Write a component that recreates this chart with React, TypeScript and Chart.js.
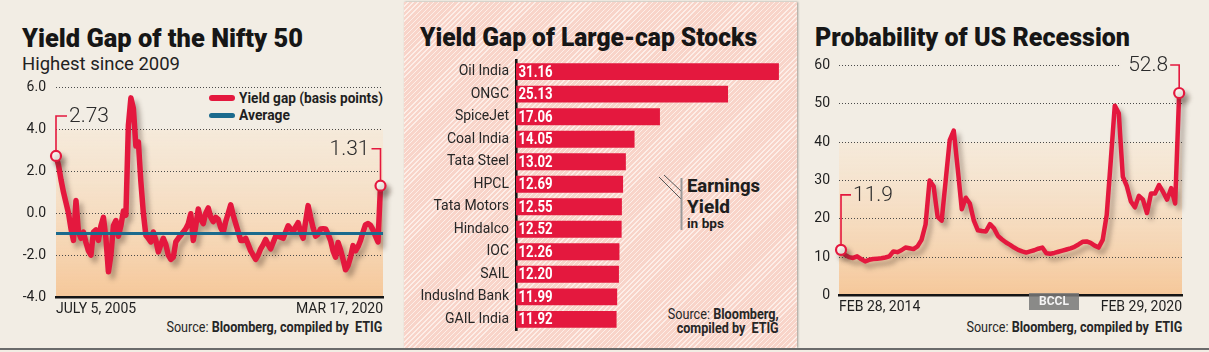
import React, { useEffect, useLayoutEffect, useRef } from 'react';
import { Chart, registerables } from 'chart.js';

Chart.register(...registerables);

// ---------------- Data ----------------
// Yield gap of the Nifty 50 (basis points), Jul 5 2005 -> Mar 17 2020, evenly spaced readings
const NIFTY_YIELD_GAP: number[] = [
  2.73, 2.3, 1.6, 1.0, 0.5, 0.0, -0.74, -1.3, 0.6, -0.9,
  -1.2, -0.9, -1.4, -1.8, -2.0, -0.9, -0.8, -1.3, -0.6, -0.2,
  -1.2, -2.8, -2.0, -0.6, -0.35, -1.1, -0.6, 0.1, -0.1, 4.2,
  5.5, 5.0, 3.2, 3.4, 1.5, 0.0, -1.05, -1.2, -1.37, -0.9,
  -1.3, -1.85, -1.5, -1.2, -1.5, -2.0, -2.2, -2.1, -1.37, -1.2,
  -1.05, -0.9, -0.74, -0.5, -0.03, -1.3, -0.6, 0.2, -0.3, -0.5,
  0.0, 0.25, -0.2, -0.4, -0.2, -0.3, -0.7, -0.9, -0.4, 0.0,
  0.4, -0.1, -0.5, -0.9, -1.3, -1.3, -1.2, -1.5, -1.8, -2.0,
  -2.2, -2.0, -1.7, -1.5, -1.25, -1.5, -1.7, -1.4, -1.1, -1.1,
  -1.15, -1.2, -0.9, -0.6, -0.75, -0.9, -0.65, -0.45, -0.9, -1.2,
  -0.4, 0.36, -0.2, -0.7, -1.1, -1.0, -0.75, -0.74, -0.75, -1.0,
  -1.3, -1.8, -2.1, -1.4, -1.75, -2.2, -2.7, -2.5, -2.1, -1.55,
  -1.8, -1.6, -1.3, -0.9, -0.55, -0.5, -0.58, -0.8, -1.1, -1.37,
  1.31,
];
const NIFTY_AVERAGE = -0.97;
const NIFTY_X_LABELS = ['JULY 5, 2005', 'MAR 17, 2020'];
const NIFTY_Y_MIN = -4;
const NIFTY_Y_MAX = 6;
const NIFTY_Y_STEP = 2;

// Yield gap of large-cap stocks (earnings yield, bps)
const STOCK_NAMES: string[] = [
  'Oil India', 'ONGC', 'SpiceJet', 'Coal India', 'Tata Steel', 'HPCL',
  'Tata Motors', 'Hindalco', 'IOC', 'SAIL', 'IndusInd Bank', 'GAIL India',
];
const STOCK_YIELDS: number[] = [31.16, 25.13, 17.06, 14.05, 13.02, 12.69, 12.55, 12.52, 12.26, 12.2, 11.99, 11.92];

// Probability of US recession (%), Feb 28 2014 -> Feb 29 2020
const RECESSION_PROB: number[] = [
  11.9, 10.6, 10.0, 9.8, 10.2, 9.5, 8.9, 9.3, 9.5, 9.6,
  9.7, 9.9, 10.2, 11.5, 11.3, 11.8, 12.5, 12.3, 12.1, 12.8,
  14.5, 18.5, 30.0, 28.5, 20.5, 19.5, 30.0, 40.5, 43.0, 33.0,
  22.5, 25.5, 24.0, 19.5, 17.0, 16.8, 16.7, 18.6, 17.5, 15.5,
  14.6, 13.8, 13.2, 12.5, 11.9, 11.5, 11.2, 11.5, 11.8, 12.2,
  12.5, 11.0, 10.9, 11.1, 11.4, 11.7, 12.0, 12.3, 12.7, 13.3,
  14.0, 14.1, 13.7, 13.0, 12.5, 14.5, 21.0, 35.0, 49.5, 47.5,
  31.0, 28.5, 24.5, 23.0, 26.0, 25.0, 21.5, 26.6, 26.6, 28.8,
  27.0, 25.0, 28.0, 24.0, 52.8,
];
const RECESSION_X_LABELS = ['FEB 28, 2014', 'FEB 29, 2020'];
const RECESSION_Y_MIN = 0;
const RECESSION_Y_MAX = 60;
const RECESSION_Y_STEP = 10;

// ---------------- Styles ----------------
const RED = '#e4183e';
const BLUE = '#1b6a8d';
const INK = '#1f1f1f';
const BG = '#f2ede4';
const FONT = 'Roboto, "Noto Sans", "DejaVu Sans", sans-serif';

// ---------------- Plugins ----------------
const areaFillPlugin = {
  id: 'areaFill',
  beforeDraw(chart: any, _a: any, opts: any) {
    const { ctx, chartArea } = chart;
    const top = chart.scales.y.getPixelForValue(opts.from);
    const g = ctx.createLinearGradient(0, top, 0, chartArea.bottom);
    g.addColorStop(0, 'rgba(248,231,210,0.55)');
    g.addColorStop(1, 'rgba(245,199,153,1)');
    ctx.save();
    ctx.fillStyle = g;
    ctx.fillRect(chartArea.left, top, chartArea.right - chartArea.left, chartArea.bottom - top);
    ctx.restore();
  },
};

const shadowPlugin = {
  id: 'lineShadow',
  beforeDatasetDraw(chart: any, args: any, opts: any) {
    if (args.index !== opts.index) return;
    const ctx = chart.ctx;
    ctx.save();
    ctx.shadowColor = 'rgba(70,50,40,0.38)';
    ctx.shadowBlur = 5;
    ctx.shadowOffsetX = 4;
    ctx.shadowOffsetY = 5;
  },
  afterDatasetDraw(chart: any, args: any, opts: any) {
    if (args.index !== opts.index) return;
    chart.ctx.restore();
  },
};

const endLabelPlugin = {
  id: 'endLabels',
  afterDatasetsDraw(chart: any, _a: any, opts: any) {
    const { ctx } = chart;
    const meta = chart.getDatasetMeta(opts.datasetIndex);
    const ds = chart.data.datasets[opts.datasetIndex];
    for (const item of opts.items) {
      const idx = item.index < 0 ? ds.data.length + item.index : item.index;
      const el = meta.data[idx];
      const raw = ds.data[idx];
      const value = typeof raw === 'object' ? raw.y : raw;
      const text = Number(value).toFixed(opts.decimals);
      const dir = item.side === 'right' ? 1 : -1;
      const topY = el.y - item.rise;
      const endX = el.x + item.run * dir;
      ctx.save();
      ctx.font = `300 21px ${FONT}`;
      const tw = ctx.measureText(text).width;
      if (item.knockout) {
        const x0 = dir > 0 ? endX : endX - tw - 10;
        ctx.fillStyle = BG;
        ctx.fillRect(x0, topY - 4, tw + 10 + item.run + 6, 8);
      }
      ctx.strokeStyle = RED;
      ctx.lineWidth = 1.6;
      ctx.beginPath();
      ctx.moveTo(el.x, el.y - 5);
      ctx.lineTo(el.x, topY);
      ctx.lineTo(endX, topY);
      ctx.stroke();
      ctx.fillStyle = '#2b2b2b';
      ctx.textBaseline = 'middle';
      ctx.textAlign = dir > 0 ? 'left' : 'right';
      ctx.fillText(text, endX + 2 * dir, topY + 1);
      ctx.restore();
    }
  },
};

const barValuePlugin = {
  id: 'barValues',
  afterDatasetsDraw(chart: any) {
    const { ctx } = chart;
    const meta = chart.getDatasetMeta(0);
    const ds = chart.data.datasets[0];
    ctx.save();
    ctx.font = `bold 16.5px ${FONT}`;
    ctx.fillStyle = '#ffffff';
    ctx.textBaseline = 'middle';
    ctx.textAlign = 'left';
    meta.data.forEach((bar: any, i: number) => {
      const t = Number(ds.data[i]).toFixed(2);
      const w = ctx.measureText(t).width;
      ctx.fillText(t, bar.base + 2.5, bar.y + 1, w * 0.8);
    });
    ctx.restore();
  },
};

// ---------------- Chart builders ----------------
function makeLineChart(canvas: HTMLCanvasElement, cfg: any) {
  return new Chart(canvas, {
    type: 'line',
    data: { datasets: cfg.datasets },
    options: {
      animation: false,
      responsive: false,
      maintainAspectRatio: false,
      devicePixelRatio: 1,
      events: [],
      layout: { padding: cfg.padding },
      elements: { line: { tension: 0 } },
      plugins: {
        legend: { display: false },
        tooltip: { enabled: false },
        areaFill: { from: cfg.fillFrom },
        lineShadow: { index: cfg.shadowIndex },
        endLabels: cfg.endLabels,
      } as any,
      scales: {
        x: {
          type: 'linear',
          min: cfg.xMin,
          max: cfg.xMax,
          grid: { display: false, drawTicks: false },
          border: { display: true, color: '#151515', width: 2.6 },
          afterBuildTicks: (s: any) => {
            s.ticks = [{ value: s.min }, { value: s.max }];
          },
          afterFit: (s: any) => {
            s.height = cfg.xHeight;
          },
          ticks: {
            autoSkip: false,
            maxRotation: 0,
            align: 'inner',
            padding: 4,
            color: INK,
            font: { family: FONT, size: 14 },
            callback: (_v: any, i: number) => cfg.xLabels[i],
          },
        },
        y: {
          min: cfg.yMin,
          max: cfg.yMax,
          afterFit: (s: any) => {
            s.width = cfg.yWidth;
          },
          grid: { color: '#4a4a4a', lineWidth: 1, drawTicks: false },
          border: { display: false, dash: [1, 2] },
          ticks: {
            stepSize: cfg.yStep,
            padding: cfg.yPad,
            color: INK,
            font: { family: FONT, size: 14 },
            callback: (v: any) => Number(v).toFixed(cfg.yDecimals),
          },
        },
      },
    } as any,
    plugins: [areaFillPlugin, shadowPlugin, endLabelPlugin] as any,
  });
}

function makeNifty(canvas: HTMLCanvasElement) {
  const n = NIFTY_YIELD_GAP.length;
  return makeLineChart(canvas, {
    padding: { top: 0, right: 17, bottom: 0, left: 0 },
    xMin: 0,
    xMax: n,
    xHeight: 25,
    yWidth: 56,
    yPad: 10,
    yMin: NIFTY_Y_MIN,
    yMax: NIFTY_Y_MAX,
    yStep: NIFTY_Y_STEP,
    yDecimals: 1,
    xLabels: NIFTY_X_LABELS,
    fillFrom: 4,
    shadowIndex: 1,
    endLabels: {
      datasetIndex: 1,
      decimals: 2,
      items: [
        { index: 0, side: 'right', rise: 40, run: 11 },
        { index: -1, side: 'left', rise: 37, run: 9 },
      ],
    },
    datasets: [
      {
        label: 'Average',
        data: [
          { x: 0, y: NIFTY_AVERAGE },
          { x: n, y: NIFTY_AVERAGE },
        ],
        borderColor: BLUE,
        borderWidth: 3,
        pointRadius: 0,
        clip: false,
        order: 0,
      },
      {
        label: 'Yield gap (basis points)',
        data: NIFTY_YIELD_GAP.map((v, i) => ({ x: i, y: v })),
        borderColor: RED,
        borderWidth: 5.5,
        borderJoinStyle: 'round',
        borderCapStyle: 'round',
        pointRadius: (c: any) => (c.dataIndex === 0 || c.dataIndex === n - 1 ? 5 : 0),
        pointBackgroundColor: '#fbf7f2',
        pointBorderColor: RED,
        pointBorderWidth: 2.2,
        clip: false,
        order: 1,
      },
    ],
  });
}

function makeRecession(canvas: HTMLCanvasElement) {
  const n = RECESSION_PROB.length;
  return makeLineChart(canvas, {
    padding: { top: 0, right: 27, bottom: 0, left: 0 },
    xMin: -0.5,
    xMax: n - 0.3,
    xHeight: 26.5,
    yWidth: 39,
    yPad: 9,
    yMin: RECESSION_Y_MIN,
    yMax: RECESSION_Y_MAX,
    yStep: RECESSION_Y_STEP,
    yDecimals: 0,
    xLabels: RECESSION_X_LABELS,
    fillFrom: 40,
    shadowIndex: 0,
    endLabels: {
      datasetIndex: 0,
      decimals: 1,
      items: [
        { index: 0, side: 'right', rise: 55, run: 10 },
        { index: -1, side: 'left', rise: 28, run: 9, knockout: true },
      ],
    },
    datasets: [
      {
        label: 'Probability of US Recession',
        data: RECESSION_PROB.map((v, i) => ({ x: i, y: v })),
        borderColor: RED,
        borderWidth: 4.5,
        borderJoinStyle: 'round',
        borderCapStyle: 'round',
        pointRadius: (c: any) => (c.dataIndex === 0 || c.dataIndex === n - 1 ? 5 : 0),
        pointBackgroundColor: '#fbf7f2',
        pointBorderColor: RED,
        pointBorderWidth: 2.2,
        clip: false,
      },
    ],
  });
}

function makeStocks(canvas: HTMLCanvasElement) {
  return new Chart(canvas, {
    type: 'bar',
    data: {
      labels: STOCK_NAMES,
      datasets: [
        {
          label: 'Earnings Yield',
          data: STOCK_YIELDS,
          backgroundColor: RED,
          borderWidth: 0,
          barPercentage: 0.75,
          categoryPercentage: 1,
        },
      ],
    },
    options: {
      indexAxis: 'y',
      animation: false,
      responsive: false,
      maintainAspectRatio: false,
      devicePixelRatio: 1,
      events: [],
      layout: { padding: { top: 0, right: 11, bottom: 0, left: 0 } },
      plugins: { legend: { display: false }, tooltip: { enabled: false } },
      scales: {
        x: { display: false, min: 0, max: 32 },
        y: {
          afterFit: (s: any) => {
            s.width = 111;
          },
          grid: { display: false, drawTicks: false },
          border: { display: true, color: '#151515', width: 2.6 },
          ticks: {
            autoSkip: false,
            padding: 7,
            color: '#262626',
            font: { family: FONT, size: 14 },
          },
        },
      },
    } as any,
    plugins: [barValuePlugin] as any,
  });
}

// ---------------- Components ----------------
function ChartCanvas({ make, left, top, width, height }: any) {
  const ref = useRef<HTMLCanvasElement>(null);
  useEffect(() => {
    const c = make(ref.current!);
    return () => c.destroy();
  }, []);
  return (
    <canvas
      ref={ref}
      width={width}
      height={height}
      style={{ position: 'absolute', left, top, width, height }}
    />
  );
}

function FitText({ x, baseline, size, weight = 400, width, align = 'left', color = INK, children }: any) {
  const ref = useRef<HTMLDivElement>(null);
  useLayoutEffect(() => {
    const el = ref.current;
    if (!el) return;
    el.style.transform = 'none';
    const w = el.getBoundingClientRect().width;
    if (w > 0 && width) el.style.transform = `scaleX(${width / w})`;
  });
  const pos: any = align === 'left' ? { left: x } : { right: 1209 - x };
  return (
    <div
      ref={ref}
      style={{
        position: 'absolute',
        top: baseline - 0.842 * size,
        ...pos,
        fontFamily: FONT,
        fontSize: size,
        fontWeight: weight,
        lineHeight: 1,
        color,
        whiteSpace: 'nowrap',
        transformOrigin: align === 'left' ? 'left top' : 'right top',
      }}
    >
      {children}
    </div>
  );
}

function Source({ x, baseline, width }: any) {
  return (
    <FitText x={x} baseline={baseline} size={14.5} width={width} align="right" color="#262626">
      <span style={{ fontWeight: 400 }}>Source: </span>
      <span style={{ fontWeight: 700 }}>Bloomberg, compiled by&nbsp; ETIG</span>
    </FitText>
  );
}

export default function App() {
  useEffect(() => {
    document.body.style.margin = '0';
    document.body.style.background = BG;
  }, []);
  return (
    <div
      style={{
        position: 'fixed',
        left: 0,
        top: 0,
        width: 1209,
        height: 352,
        background: BG,
        overflow: 'hidden',
        fontFamily: FONT,
      }}
    >
      {/* middle striped panel */}
      <div
        style={{
          position: 'absolute',
          left: 404,
          top: 2,
          width: 393,
          height: 346,
          background:
            'repeating-linear-gradient(135deg, #f8d4c9 0px, #f8d4c9 2.6px, #fdeee8 2.6px, #fdeee8 3.6px)',
          boxShadow: '1px 0 2px rgba(0,0,0,0.35)',
        }}
      />
      <div style={{ position: 'absolute', left: 0, top: 348, width: 1209, height: 2, background: '#6b6b6b' }} />

      {/* Left panel texts */}
      <FitText x={22} baseline={47} size={25} weight={900} width={281} color="#161616">
        Yield Gap of the Nifty 50
      </FitText>
      <FitText x={22} baseline={70} size={18} width={158} color="#222">
        Highest since 2009
      </FitText>
      <div style={{ position: 'absolute', left: 209, top: 95, width: 26, height: 6, borderRadius: 3, background: RED }} />
      <div style={{ position: 'absolute', left: 209, top: 112.5, width: 26, height: 5, borderRadius: 2.5, background: BLUE }} />
      <FitText x={239} baseline={102.5} size={14} weight={700} width={144} color="#1f1f1f">
        Yield gap (basis points)
      </FitText>
      <FitText x={239} baseline={119.5} size={14} weight={700} width={51} color="#1f1f1f">
        Average
      </FitText>
      <Source x={382} baseline={333} width={216} />

      {/* Middle panel texts */}
      <FitText x={420} baseline={46} size={25} weight={900} width={337} color="#161616">
        Yield Gap of Large-cap Stocks
      </FitText>
      <svg style={{ position: 'absolute', left: 650, top: 168, overflow: 'visible' }} width={40} height={70}>
        <line x1={9} y1={9} x2={31} y2={31} stroke="#555" strokeWidth={1} />
        <line x1={14} y1={7} x2={31} y2={23} stroke="#555" strokeWidth={1} />
        <line x1={31.5} y1={10} x2={31.5} y2={62} stroke="#9a9a9a" strokeWidth={2} />
      </svg>
      <FitText x={687} baseline={192} size={18} weight={800} width={73} color="#1f1f1f">
        Earnings
      </FitText>
      <FitText x={687} baseline={213.5} size={18} weight={800} width={43} color="#1f1f1f">
        Yield
      </FitText>
      <FitText x={687} baseline={228.5} size={12.5} weight={700} width={37} color="#1f1f1f">
        in bps
      </FitText>
      <FitText x={779} baseline={318.5} size={14} width={111} align="right" color="#262626">
        <span style={{ fontWeight: 400 }}>Source: </span>
        <span style={{ fontWeight: 700 }}>Bloomberg,</span>
      </FitText>
      <FitText x={779} baseline={333} size={14} weight={700} width={102} align="right" color="#262626">
        compiled by&nbsp; ETIG
      </FitText>

      {/* Right panel texts */}
      <FitText x={815} baseline={46} size={25} weight={900} width={315} color="#161616">
        Probability of US Recession
      </FitText>
      <Source x={1182} baseline={333} width={216} />

      {/* Charts */}
      <ChartCanvas make={makeNifty} left={0} top={69} width={400} height={253} />
      <ChartCanvas make={makeStocks} left={405} top={45} width={392} height={301} />
      <ChartCanvas make={makeRecession} left={800} top={48} width={409} height={274} />

      {/* watermark */}
      <div
        style={{
          position: 'absolute',
          left: 1029,
          top: 293,
          width: 50,
          height: 17,
          background: 'rgba(120,120,120,0.85)',
          color: '#f4f4f4',
          fontFamily: FONT,
          fontWeight: 700,
          fontSize: 12,
          lineHeight: '17px',
          textAlign: 'center',
        }}
      >
        BCCL
      </div>
    </div>
  );
}
